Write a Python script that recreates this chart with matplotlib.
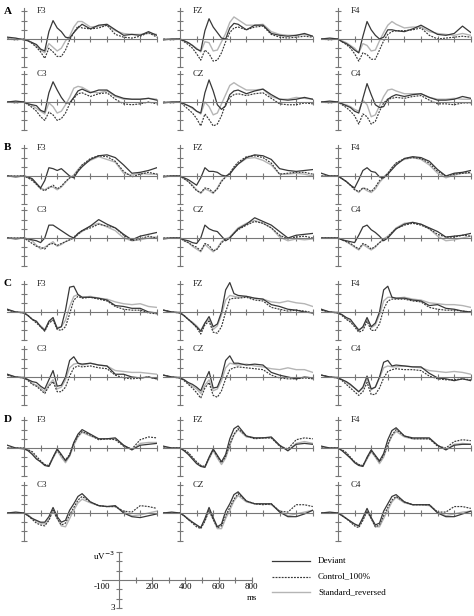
import matplotlib
matplotlib.use('Agg')
import matplotlib.pyplot as plt

plt.rcParams['font.family'] = ['Liberation Serif', 'DejaVu Serif']

# time points (ms) shared by every waveform
T = [-100, -50, 0, 25, 50, 75, 100, 125, 150, 175, 200, 225, 250,
     275, 300, 325, 350, 400, 450, 500, 550, 600, 650, 700, 750, 800]

electrodes = ['F3', 'FZ', 'F4', 'C3', 'CZ', 'C4']
panels = ['A', 'B', 'C', 'D']
conditions = ['Deviant', 'Control_100%', 'Standard_reversed']

# amplitudes in uV (negative plotted upward), order F3, FZ, F4, C3, CZ, C4
A_dev = [
    [-0.2, -0.1, 0.1, 0.2, 0.4, 0.6, 1.1, 1.3, -0.8, -2.0, -1.2, -0.8, -0.2, -0.1, -0.7, -1.2, -1.6, -1.1, -1.5, -1.6, -1.0, -0.4, -0.5, -0.4, -0.8, -0.4],
    [0.1, 0.0, 0.0, 0.2, 0.4, 0.7, 1.1, 1.3, -0.9, -2.2, -1.3, -0.7, -0.1, 0.0, -1.2, -1.7, -1.6, -1.0, -1.5, -1.5, -0.6, -0.4, -0.3, -0.4, -0.6, -0.3],
    [0.0, -0.1, 0.0, 0.3, 0.5, 0.8, 1.2, 1.5, -0.3, -1.9, -1.0, -0.4, 0.0, -0.2, -1.0, -1.0, -0.9, -0.8, -1.1, -1.5, -1.0, -0.5, -0.4, -0.6, -1.4, -0.7],
    [0.0, -0.1, 0.0, 0.2, 0.3, 0.4, 0.9, 1.1, -1.0, -2.2, -1.3, -0.5, 0.1, 0.1, -0.5, -1.2, -1.4, -1.0, -1.3, -1.3, -0.7, -0.4, -0.3, -0.3, -0.4, -0.2],
    [0.1, 0.0, 0.0, 0.2, 0.4, 0.6, 1.0, 1.2, -1.0, -2.4, -1.2, 0.3, 0.8, 0.4, -0.8, -1.2, -1.3, -0.9, -1.2, -1.4, -0.8, -0.3, -0.2, -0.3, -0.5, -0.3],
    [0.0, -0.1, 0.0, 0.2, 0.4, 0.6, 1.0, 1.2, -0.4, -2.0, -0.8, 0.3, 0.6, 0.5, -0.3, -0.6, -0.8, -0.6, -0.8, -0.9, -0.5, -0.2, -0.2, -0.3, -0.6, -0.4],
]
A_ctl = [
    [0.0, 0.1, 0.0, 0.2, 0.5, 0.9, 1.4, 2.1, 1.0, 1.4, 1.9, 1.9, 1.2, 0.1, -0.7, -1.4, -1.2, -1.1, -1.2, -1.5, -0.5, -0.2, -0.1, -0.3, -0.7, -0.2],
    [0.0, 0.1, 0.0, 0.3, 0.6, 1.0, 1.6, 2.3, 1.2, 1.6, 2.4, 2.3, 1.5, 0.3, -0.7, -1.2, -1.3, -1.0, -1.3, -1.4, -0.5, -0.2, -0.1, -0.2, -0.3, -0.2],
    [0.0, 0.1, 0.0, 0.3, 0.6, 1.0, 1.6, 2.4, 1.5, 1.7, 2.2, 2.2, 1.2, 0.2, -0.5, -0.8, -0.9, -0.9, -1.0, -1.2, -0.4, 0.0, -0.1, -0.2, -0.3, -0.2],
    [0.0, 0.1, 0.0, 0.3, 0.6, 1.0, 1.6, 2.0, 1.1, 1.4, 2.0, 1.8, 1.2, 0.2, -0.4, -0.9, -1.0, -0.6, -0.9, -1.0, -0.3, 0.2, 0.3, 0.2, 0.0, 0.2],
    [0.0, 0.1, 0.0, 0.4, 0.8, 1.2, 1.8, 2.6, 1.3, 1.9, 2.6, 2.4, 1.5, 0.2, -0.5, -0.8, -0.9, -0.7, -0.9, -1.0, -0.4, 0.2, 0.3, 0.3, 0.1, 0.2],
    [0.0, 0.1, 0.0, 0.3, 0.6, 1.0, 1.5, 2.4, 1.3, 1.6, 2.4, 2.1, 1.0, 0.1, -0.3, -0.4, -0.5, -0.4, -0.6, -0.7, -0.2, 0.2, 0.2, 0.3, 0.1, 0.1],
]
A_std = [
    [0.0, 0.0, 0.0, 0.2, 0.4, 0.8, 1.2, 1.5, 0.5, 0.9, 1.3, 1.0, 0.2, -0.3, -1.3, -1.9, -1.9, -1.3, -1.4, -1.5, -0.9, -0.6, -0.5, -0.5, -0.6, -0.5],
    [0.0, 0.0, 0.0, 0.2, 0.4, 0.7, 1.0, 1.4, 0.3, 0.4, 1.3, 1.2, 0.3, -0.6, -1.8, -2.4, -2.1, -1.5, -1.5, -1.6, -0.8, -0.5, -0.4, -0.4, -0.5, -0.3],
    [0.0, 0.0, 0.0, 0.2, 0.4, 0.7, 1.0, 1.5, 0.5, 0.7, 1.3, 1.2, 0.2, -0.7, -1.5, -1.9, -1.6, -1.2, -1.3, -1.3, -0.8, -0.6, -0.5, -0.4, -0.6, -0.4],
    [0.0, 0.0, 0.0, 0.2, 0.4, 0.7, 1.0, 1.3, 0.1, 0.5, 1.2, 1.0, 0.3, -0.5, -1.5, -1.7, -1.6, -1.1, -1.0, -1.2, -0.6, -0.3, -0.3, -0.3, -0.4, -0.3],
    [0.0, 0.0, 0.0, 0.2, 0.4, 0.7, 1.0, 1.3, 0.0, 0.5, 1.4, 1.2, 0.2, -0.8, -1.8, -2.1, -1.8, -1.3, -1.3, -1.4, -0.6, -0.3, -0.3, -0.5, -0.4, -0.3],
    [0.0, 0.0, 0.0, 0.2, 0.3, 0.5, 0.8, 1.0, -0.2, 0.3, 1.6, 1.4, 0.4, -0.6, -1.3, -1.4, -1.2, -0.9, -0.9, -0.9, -0.5, -0.3, -0.3, -0.4, -0.3, -0.3],
]

B_dev = [
    [0.0, 0.1, 0.0, 0.1, 0.3, 0.8, 1.3, 0.5, -0.9, -0.8, -0.6, -0.8, -0.4, 0.0, 0.2, -0.5, -1.0, -1.8, -2.2, -2.3, -2.0, -1.2, -0.3, -0.4, -0.6, -0.9],
    [0.1, 0.0, 0.0, 0.2, 0.4, 0.7, 1.0, 0.2, -0.9, -0.5, -0.5, -0.4, -0.1, 0.0, -0.2, -0.8, -1.3, -2.0, -2.3, -2.2, -1.8, -0.8, -0.6, -0.5, -0.6, -0.7],
    [-0.3, 0.0, 0.0, 0.3, 0.6, 1.0, 1.3, 0.4, -0.6, -0.9, -0.5, -0.4, 0.1, 0.2, -0.2, -0.7, -1.2, -1.9, -2.1, -2.0, -1.6, -0.7, 0.0, -0.3, -0.4, -0.6],
    [0.0, 0.1, 0.0, 0.1, 0.2, 0.3, 0.5, 0.0, -1.4, -1.4, -1.1, -0.8, -0.5, -0.2, 0.0, -0.5, -0.8, -1.3, -2.0, -1.5, -1.1, -0.4, 0.2, -0.2, -0.4, -0.6],
    [0.1, 0.0, 0.0, 0.2, 0.3, 0.5, 0.6, 0.0, -1.4, -1.0, -0.8, -0.7, -0.2, 0.3, 0.0, -0.5, -1.0, -1.5, -2.2, -1.8, -1.4, -0.7, 0.0, -0.3, -0.4, -0.5],
    [0.0, 0.0, 0.0, 0.2, 0.3, 0.4, 0.5, -0.3, -1.2, -1.4, -0.9, -0.6, -0.2, 0.3, 0.0, -0.5, -1.0, -1.5, -1.7, -1.5, -1.1, -0.7, -0.1, -0.2, -0.3, -0.5],
]
B_ctl = [
    [0.0, 0.0, 0.0, 0.2, 0.5, 0.9, 1.4, 1.6, 1.3, 1.0, 1.4, 1.1, 0.6, 0.2, 0.0, -0.6, -1.2, -1.9, -2.2, -2.1, -1.6, -0.5, 0.1, -0.2, -0.4, -0.2],
    [0.0, 0.0, 0.0, 0.3, 0.6, 1.1, 1.6, 1.8, 1.3, 1.4, 1.8, 1.4, 0.6, 0.1, -0.3, -1.0, -1.5, -2.1, -2.2, -2.0, -1.4, -0.2, -0.3, -0.4, -0.4, -0.2],
    [0.0, 0.0, 0.0, 0.3, 0.6, 1.0, 1.5, 1.7, 1.3, 1.4, 1.7, 1.2, 0.5, 0.1, -0.3, -0.9, -1.4, -1.9, -2.0, -1.9, -1.4, -0.5, 0.0, -0.2, -0.3, -0.4],
    [0.0, 0.0, 0.0, 0.3, 0.6, 0.9, 1.0, 1.2, 0.7, 0.6, 0.8, 0.6, 0.4, 0.2, 0.0, -0.4, -0.8, -1.1, -1.5, -1.3, -1.1, -0.3, 0.3, 0.1, -0.2, 0.0],
    [0.0, 0.0, 0.0, 0.3, 0.5, 0.8, 1.0, 1.4, 0.6, 0.8, 1.4, 1.2, 0.5, 0.2, 0.0, -0.5, -0.9, -1.4, -1.8, -1.6, -1.1, -0.3, 0.1, -0.1, -0.2, 0.0],
    [0.0, 0.0, 0.0, 0.2, 0.4, 0.6, 0.9, 1.2, 0.6, 0.8, 1.2, 0.9, 0.5, 0.2, -0.1, -0.6, -1.0, -1.4, -1.6, -1.4, -1.0, -0.4, -0.1, -0.1, -0.3, -0.2],
]
B_std = [
    [0.0, 0.0, 0.0, 0.2, 0.4, 0.9, 1.3, 1.5, 1.2, 1.2, 1.5, 1.2, 0.7, 0.2, -0.1, -0.7, -1.2, -1.7, -2.1, -1.8, -1.5, -0.3, -0.1, -0.3, -0.2, -0.2],
    [0.0, 0.0, 0.0, 0.3, 0.6, 1.0, 1.5, 1.9, 1.4, 1.6, 1.9, 1.3, 0.5, 0.1, -0.3, -0.8, -1.3, -1.9, -2.0, -1.7, -1.2, -0.2, -0.2, -0.3, -0.2, 0.0],
    [0.0, 0.0, 0.0, 0.3, 0.6, 1.0, 1.4, 1.8, 1.3, 1.6, 1.8, 1.4, 0.7, 0.2, -0.2, -0.9, -1.4, -1.8, -2.0, -1.8, -1.2, -0.3, 0.2, -0.1, -0.3, -0.3],
    [0.0, 0.0, 0.0, 0.2, 0.3, 0.8, 1.2, 1.0, 0.7, 0.4, 0.9, 0.7, 0.4, 0.2, 0.0, -0.4, -0.7, -1.3, -1.6, -1.2, -0.8, 0.0, 0.3, 0.2, 0.0, -0.1],
    [0.0, 0.0, 0.0, 0.3, 0.5, 0.9, 1.2, 1.5, 0.7, 1.1, 1.5, 1.1, 0.4, 0.1, -0.1, -0.6, -1.1, -1.6, -1.9, -1.6, -1.1, -0.1, 0.3, 0.1, 0.2, 0.1],
    [0.0, 0.0, 0.0, 0.2, 0.4, 0.7, 1.0, 1.3, 0.7, 1.0, 1.3, 1.0, 0.5, 0.1, -0.2, -0.6, -1.1, -1.6, -1.7, -1.5, -1.0, -0.2, 0.3, 0.2, 0.0, -0.2],
]

C_dev = [
    [-0.3, 0.0, 0.1, 0.4, 0.8, 1.0, 1.6, 2.0, 1.0, 0.6, 1.8, 1.6, -0.2, -2.7, -2.8, -1.9, -1.6, -1.6, -1.5, -1.3, -0.7, -0.6, -0.4, -0.4, 0.0, 0.1],
    [-0.2, 0.0, 0.1, 0.4, 0.8, 1.2, 1.6, 2.1, 1.2, 0.5, 1.6, 1.3, 0.0, -2.4, -3.2, -2.0, -1.8, -1.7, -1.5, -1.4, -0.8, -0.6, -0.3, -0.2, 0.0, 0.1],
    [-0.3, 0.0, 0.1, 0.3, 0.6, 0.8, 1.4, 2.0, 1.6, 0.6, 1.6, 1.2, 0.0, -2.4, -2.8, -1.6, -1.5, -1.5, -1.3, -1.2, -0.7, -0.8, -0.4, -0.3, -0.1, 0.0],
    [-0.3, 0.0, 0.1, 0.3, 0.5, 0.6, 1.0, 1.3, 0.3, -0.7, 1.0, 0.9, 0.0, -1.8, -2.2, -1.5, -1.4, -1.5, -1.3, -1.2, -0.3, -0.3, 0.0, 0.1, 0.0, 0.2],
    [-0.2, 0.0, 0.1, 0.3, 0.6, 0.8, 1.1, 1.5, 0.4, -0.6, 1.2, 1.1, 0.0, -1.8, -2.3, -1.5, -1.5, -1.3, -1.4, -1.3, -0.5, -0.2, 0.0, 0.2, 0.0, 0.1],
    [-0.2, 0.0, 0.1, 0.3, 0.5, 0.8, 1.2, 1.6, 1.1, -0.1, 1.3, 1.1, 0.0, -1.6, -1.8, -1.2, -1.3, -1.2, -1.1, -1.1, -0.4, 0.1, 0.2, 0.4, 0.2, 0.4],
]
C_ctl = [
    [-0.2, 0.0, 0.1, 0.4, 0.8, 1.2, 1.6, 2.1, 1.2, 0.9, 1.9, 2.0, 1.6, 0.2, -1.3, -1.7, -1.5, -1.6, -1.4, -1.2, -0.6, -0.3, -0.2, -0.2, 0.1, 0.2],
    [-0.2, 0.0, 0.1, 0.4, 0.8, 1.2, 1.7, 2.4, 1.4, 1.0, 2.2, 2.3, 1.6, 0.0, -1.4, -1.5, -1.5, -1.6, -1.3, -1.2, -0.5, -0.3, -0.1, -0.2, -0.1, 0.1],
    [-0.2, 0.0, 0.1, 0.4, 0.8, 1.1, 1.6, 2.2, 2.0, 1.0, 2.0, 2.0, 1.3, -0.3, -1.2, -1.4, -1.4, -1.4, -1.2, -1.1, -0.5, -0.3, -0.2, -0.2, -0.1, 0.0],
    [-0.2, 0.0, 0.1, 0.4, 0.8, 1.0, 1.4, 1.8, 1.0, 0.5, 1.6, 1.6, 1.1, -0.1, -1.0, -1.2, -1.1, -1.2, -1.0, -0.9, -0.2, 0.1, 0.2, 0.1, 0.0, 0.2],
    [-0.2, 0.0, 0.1, 0.4, 0.8, 1.2, 1.7, 2.3, 1.2, 0.6, 2.0, 2.2, 1.5, 0.2, -0.8, -1.0, -1.1, -1.0, -0.9, -0.8, -0.2, 0.1, 0.2, 0.2, 0.1, 0.2],
    [-0.2, 0.0, 0.1, 0.4, 0.8, 1.2, 1.6, 2.0, 1.6, 0.6, 1.9, 1.9, 1.2, 0.1, -0.6, -0.8, -0.9, -0.8, -0.8, -0.7, -0.1, 0.2, 0.3, 0.3, 0.2, 0.3],
]
C_std = [
    [-0.2, 0.0, 0.0, 0.4, 0.8, 1.1, 1.5, 1.9, 1.1, 0.8, 1.7, 1.6, 0.9, -0.6, -1.7, -1.9, -1.6, -1.7, -1.5, -1.4, -1.1, -0.9, -0.8, -0.9, -0.6, -0.5],
    [-0.2, 0.0, 0.0, 0.4, 0.8, 1.1, 1.5, 2.0, 1.2, 0.8, 1.9, 1.5, 0.3, -1.3, -1.8, -1.7, -1.6, -1.7, -1.5, -1.4, -1.1, -1.0, -1.2, -1.0, -0.9, -0.6],
    [-0.2, 0.0, 0.0, 0.3, 0.7, 1.0, 1.4, 1.9, 1.7, 0.8, 1.7, 1.4, 0.3, -1.2, -1.6, -1.6, -1.5, -1.6, -1.4, -1.3, -1.0, -0.9, -0.8, -0.8, -0.7, -0.5],
    [-0.2, 0.0, 0.0, 0.3, 0.7, 0.9, 1.2, 1.6, 0.8, 0.3, 1.3, 1.1, 0.3, -1.0, -1.4, -1.5, -1.3, -1.5, -1.3, -1.2, -0.7, -0.6, -0.5, -0.5, -0.4, -0.3],
    [-0.2, 0.0, 0.0, 0.3, 0.7, 1.0, 1.3, 1.8, 0.9, 0.3, 1.5, 1.3, 0.4, -1.0, -1.5, -1.4, -1.3, -1.4, -1.2, -1.1, -0.9, -0.8, -1.0, -0.8, -0.8, -0.5],
    [-0.2, 0.0, 0.0, 0.3, 0.6, 0.9, 1.2, 1.6, 1.2, 0.2, 1.4, 1.1, 0.1, -1.0, -1.2, -1.1, -1.1, -1.2, -1.1, -1.0, -0.7, -0.6, -0.5, -0.6, -0.5, -0.3],
]

D_dev = [
    [-0.3, 0.0, 0.1, 0.3, 0.7, 1.2, 1.5, 1.9, 2.0, 1.0, 0.1, 0.7, 1.4, 0.8, -0.6, -1.5, -2.0, -1.5, -1.0, -1.0, -1.1, -0.3, 0.2, -0.3, -0.4, -0.5],
    [-0.2, 0.0, 0.0, 0.3, 0.7, 1.2, 1.7, 2.0, 2.1, 1.0, 0.1, 0.8, 1.5, 0.7, -1.0, -2.1, -2.4, -1.3, -1.1, -1.1, -1.2, -0.3, 0.3, -0.4, -0.5, -0.4],
    [-0.2, 0.0, 0.0, 0.3, 0.7, 1.1, 1.6, 1.9, 2.0, 1.0, 0.2, 0.8, 1.4, 0.6, -0.9, -1.9, -2.2, -1.3, -1.1, -1.1, -1.1, -0.3, 0.2, -0.3, -0.4, -0.4],
    [0.0, -0.1, 0.0, 0.3, 0.6, 0.8, 1.0, 1.0, 0.4, -0.6, 0.4, 1.0, 0.8, -0.3, -1.0, -1.8, -2.1, -1.2, -0.8, -0.7, -0.8, 0.0, 0.4, 0.5, 0.3, 0.1],
    [0.0, -0.1, 0.0, 0.3, 0.7, 1.0, 1.3, 1.6, 0.6, -0.6, 0.5, 1.5, 1.2, -0.2, -1.0, -2.0, -2.3, -1.3, -1.0, -1.0, -1.0, -0.1, 0.4, 0.4, 0.1, -0.3],
    [0.0, -0.1, 0.0, 0.3, 0.6, 0.9, 1.2, 1.4, 0.5, -0.5, 0.5, 1.3, 1.1, -0.2, -1.0, -1.8, -2.0, -1.2, -0.9, -0.9, -0.9, 0.0, 0.4, 0.4, 0.1, -0.2],
]
D_ctl = [
    [0.0, 0.0, 0.0, 0.2, 0.4, 0.9, 1.4, 1.8, 1.9, 1.0, 0.2, 0.8, 1.3, 0.7, -0.5, -1.3, -1.8, -1.4, -0.9, -1.0, -0.9, -0.2, 0.1, -0.9, -1.2, -1.1],
    [0.0, 0.0, 0.0, 0.2, 0.5, 1.0, 1.5, 1.9, 2.0, 1.1, 0.2, 0.9, 1.6, 0.9, -0.4, -1.5, -2.1, -1.3, -1.0, -1.1, -1.1, -0.2, 0.1, -0.9, -1.1, -1.0],
    [0.0, 0.0, 0.0, 0.2, 0.5, 1.0, 1.5, 1.8, 1.9, 1.1, 0.3, 0.9, 1.5, 0.8, -0.4, -1.4, -2.0, -1.3, -1.0, -1.0, -1.0, -0.2, 0.0, -0.7, -0.9, -0.8],
    [0.0, 0.0, 0.0, 0.3, 0.7, 1.1, 1.3, 1.4, 0.8, -0.3, 0.6, 1.3, 1.1, 0.2, -0.6, -1.4, -1.8, -1.2, -0.8, -0.7, -0.7, -0.2, -0.1, -0.8, -0.7, -0.5],
    [0.0, 0.0, 0.0, 0.3, 0.7, 1.1, 1.5, 1.7, 0.9, -0.3, 0.7, 1.6, 1.4, 0.3, -0.6, -1.5, -2.1, -1.3, -1.0, -0.9, -1.0, -0.2, -0.1, -0.9, -0.9, -0.7],
    [0.0, 0.0, 0.0, 0.3, 0.6, 1.0, 1.4, 1.6, 0.8, -0.2, 0.6, 1.5, 1.3, 0.3, -0.6, -1.4, -1.8, -1.2, -0.9, -0.9, -0.9, -0.1, -0.1, -0.7, -0.7, -0.5],
]
D_std = [
    [0.0, 0.0, 0.0, 0.2, 0.6, 1.1, 1.5, 1.8, 2.0, 1.1, 0.3, 1.0, 1.6, 0.9, -0.3, -1.2, -1.7, -1.3, -1.0, -1.0, -1.0, -0.3, 0.2, -0.5, -0.6, -0.6],
    [0.0, 0.0, 0.0, 0.3, 0.6, 1.1, 1.6, 1.9, 2.1, 1.2, 0.3, 1.1, 1.8, 1.1, -0.3, -1.4, -2.0, -1.2, -1.1, -1.1, -1.1, -0.3, 0.3, -0.5, -0.7, -0.5],
    [0.0, 0.0, 0.0, 0.3, 0.6, 1.1, 1.5, 1.8, 2.0, 1.2, 0.4, 1.0, 1.7, 1.0, -0.3, -1.3, -1.8, -1.2, -1.0, -1.0, -1.0, -0.3, 0.2, -0.4, -0.5, -0.4],
    [0.0, 0.0, 0.0, 0.2, 0.6, 0.9, 1.1, 1.2, 0.7, -0.3, 0.6, 1.4, 1.5, 0.6, -0.3, -1.1, -1.5, -1.1, -0.8, -0.7, -0.7, -0.1, 0.3, 0.2, 0.0, -0.2],
    [0.0, 0.0, 0.0, 0.3, 0.6, 1.0, 1.3, 1.6, 0.8, -0.2, 0.7, 1.7, 1.7, 0.6, -0.3, -1.3, -1.9, -1.2, -1.0, -1.0, -0.9, -0.2, 0.3, 0.1, -0.1, -0.3],
    [0.0, 0.0, 0.0, 0.2, 0.6, 0.9, 1.2, 1.4, 0.7, -0.2, 0.6, 1.5, 1.5, 0.6, -0.3, -1.2, -1.7, -1.1, -0.9, -0.9, -0.8, -0.1, 0.3, 0.1, -0.1, -0.2],
]

panel_data = {
    'A': (A_dev, A_ctl, A_std),
    'B': (B_dev, B_ctl, B_std),
    'C': (C_dev, C_ctl, C_std),
    'D': (D_dev, D_ctl, D_std),
}

W, H = 474, 616
fig = plt.figure(figsize=(W / 100, H / 100), dpi=100)

PX_MS = 0.166   # pixels per ms
PX_UV = 9.2     # pixels per uV
AX_COL = '#777777'
DARK = '#383838'
LIGHT = '#b5b5b5'
styles = [dict(color=DARK, lw=0.9, ls='-'),
          dict(color=DARK, lw=0.85, ls=(0, (1.6, 1.0))),
          dict(color=LIGHT, lw=1.0, ls='-')]

col_x = [24, 180, 338]                   # pixel x of the 0 ms axis
row_y = {'A': (39, 102), 'B': (176, 238), 'C': (312, 377), 'D': (448, 513)}
letter_y = {'A': 11, 'B': 148, 'C': 283, 'D': 420}


def px_axes(x0, y0, ymin=-3.6, ymax=3.4, ppu=PX_UV):
    left = x0 - 100 * PX_MS
    width = 900 * PX_MS
    top = y0 + ymin * ppu
    height = (ymax - ymin) * ppu
    ax = fig.add_axes([left / W, 1 - (top + height) / H, width / W, height / H])
    ax.set_xlim(-100, 800)
    ax.set_ylim(ymax, ymin)
    ax.patch.set_visible(False)
    for s in ['top', 'right']:
        ax.spines[s].set_visible(False)
    ax.spines['left'].set_position(('data', 0))
    ax.spines['bottom'].set_position(('data', 0))
    for s in ['left', 'bottom']:
        ax.spines[s].set_color(AX_COL)
        ax.spines[s].set_linewidth(0.8)
    ax.spines['bottom'].set_bounds(-100, 800)
    ax.set_xticks(range(100, 900, 100))
    ax.set_yticks([-3, -2, -1, 1, 2, 3])
    ax.tick_params(direction='inout', length=4, width=0.8, color=AX_COL,
                   labelbottom=False, labelleft=False)
    return ax


for p in panels:
    devs, ctls, stds = panel_data[p]
    for i, name in enumerate(electrodes):
        r, c = divmod(i, 3)
        ax = px_axes(col_x[c], row_y[p][r])
        ax.spines['left'].set_bounds(-3.4, 3.0)
        for series, st in zip([stds[i], ctls[i], devs[i]], [styles[2], styles[1], styles[0]]):
            ax.plot(T, series, **st)
        ax.text(75, -3.0, name, fontsize=6.5, va='center', ha='left', color='#222222')
    fig.text(4 / W, 1 - letter_y[p] / H, p, fontsize=8, fontweight='bold',
             va='center', ha='left')

# scale bar
sax = px_axes(119, 580, ymin=-3.2, ymax=3.2, ppu=9.33)
sax.spines['left'].set_bounds(-3, 3)
for t in [200, 400, 600, 800]:
    sax.text(t, 0.35, str(t), fontsize=6.5, ha='center', va='top')
sax.text(-100, 0.35, '-100', fontsize=6.5, ha='center', va='top')
sax.text(800, 1.5, 'ms', fontsize=6.5, ha='center', va='top')
sax.text(-25, -2.6, 'uV$^{-3}$', fontsize=6.5, ha='right', va='center')
sax.text(-25, 3.0, '3', fontsize=6.5, ha='right', va='center')

# legend
lax = fig.add_axes([0, 0, 1, 1])
lax.set_xlim(0, W)
lax.set_ylim(H, 0)
lax.axis('off')
for k, (lab, st) in enumerate(zip(conditions, styles)):
    y = 561 + k * 15.5
    lax.plot([272, 310], [y, y], **st)
    lax.text(318, y, lab, fontsize=6.5, va='center', ha='left')

fig.savefig('out.png', dpi=100)
